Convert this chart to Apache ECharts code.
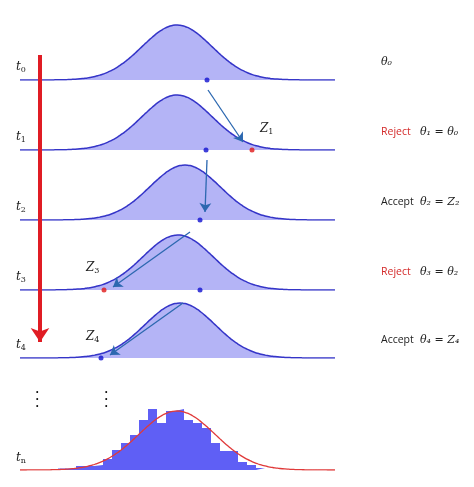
<!DOCTYPE html><html><head><meta charset="utf-8">
<script src="https://cdn.jsdelivr.net/npm/echarts@6/dist/echarts.min.js"></script>
<style>html,body{margin:0;background:#fff}#c{width:474px;height:487px}</style></head><body><div id="c"></div>
<script>
// proposal distributions per time step (centre, spread) in x units
const rowMeans = [177, 177, 185, 178, 180];
const rowSigma = 35;
const rowBaselines = [80, 150, 220, 290, 358];
// current theta (blue) and rejected proposals (red)
const thetaX = [207, 206, 200, 200, 101];
const rejectPts = [[252, 150], [104, 290]];
// proposal arrows [from, to]
const arrows = [[[208, 90], [243, 142]], [[207, 160], [205, 212]], [[190, 232], [113, 287]], [[183, 303], [110, 355]]];
// histogram of samples
const binEdges = [58,67,76,85,94,103,112,121,130,139,148,157,166,175,184,193,202,211,220,229,238,247,256,265];
const binCounts = [1.5,1.5,4,4,5,11,20,27,35,50,61,47,59,61,50,47,42,27,19,19,8,5,2];
const fitMean = 177, fitSigma = 38, fitPeak = 59;
const rightLabels = [['', 'θ₀'], ['Reject', 'θ₁ = θ₀'], ['Accept', 'θ₂ = Z₂'], ['Reject', 'θ₃ = θ₂'], ['Accept', 'θ₄ = Z₄']];
const zLabels = [[260,'1',131],[191,'2',201],[86,'3',270],[86,'4',339]];

const xs = []; for (let x = 20; x <= 335; x += 2.5) xs.push(x);
const g = (x, m, s) => Math.exp(-0.5 * ((x - m) / s) ** 2);
const grids = [], xAxes = [], yAxes = [], series = [];
const ax = {show: false};
rowBaselines.forEach((b, i) => {
  grids.push({left: 20, width: 315, top: b - 60, height: 60});
  xAxes.push({type: 'value', min: 20, max: 335, gridIndex: i, ...ax});
  yAxes.push({type: 'value', min: 0, max: 60, gridIndex: i, ...ax});
  series.push({type: 'line', xAxisIndex: i, yAxisIndex: i, showSymbol: false, smooth: true,
    data: xs.map(x => [x, 55 * g(x, rowMeans[i], rowSigma)]),
    lineStyle: {color: '#3535c8', width: 1.5}, areaStyle: {color: '#b4b4f6', opacity: 1}});
});
// histogram grid
grids.push({left: 20, width: 315, top: 400, height: 70});
xAxes.push({type: 'value', min: 20, max: 335, gridIndex: 5, ...ax});
yAxes.push({type: 'value', min: 0, max: 70, gridIndex: 5, ...ax});
const histData = binEdges.map((e, i) => [e, i < binCounts.length ? binCounts[i] : 0]);
series.push({type: 'line', xAxisIndex: 5, yAxisIndex: 5, step: 'end', showSymbol: false,
  data: histData, lineStyle: {width: 0}, areaStyle: {color: '#5f5ff5', opacity: 1}});
series.push({type: 'line', xAxisIndex: 5, yAxisIndex: 5, showSymbol: false, smooth: true,
  data: xs.map(x => [x, fitPeak * g(x, fitMean, fitSigma)]), lineStyle: {color: '#e03a3a', width: 1.3}, z: 5});
// overlay grid
grids.push({left: 0, top: 0, width: 474, height: 487});
xAxes.push({type: 'value', min: 0, max: 474, gridIndex: 6, ...ax});
yAxes.push({type: 'value', min: 0, max: 487, inverse: true, gridIndex: 6, ...ax});
const ov = {xAxisIndex: 6, yAxisIndex: 6, z: 10};
series.push({type: 'scatter', ...ov, symbolSize: 5, itemStyle: {color: '#1010d0'},
  data: thetaX.map((x, i) => [x, rowBaselines[i]])});
series.push({type: 'scatter', ...ov, symbolSize: 5, itemStyle: {color: '#e01818'}, data: rejectPts});
series.push({type: 'lines', coordinateSystem: 'cartesian2d', ...ov, symbol: ['none', 'arrow'], symbolSize: 9,
  lineStyle: {color: '#2c68b0', width: 1.3, opacity: 1}, data: arrows.map(a => ({coords: a}))});
series.push({type: 'lines', coordinateSystem: 'cartesian2d', ...ov, symbol: ['none', 'arrow'], symbolSize: 14,
  lineStyle: {color: '#e01c24', width: 4, opacity: 1}, data: [{coords: [[40, 55], [40, 342]]}]});
// text
const T = {fontFamily: 'DejaVu Serif', fontStyle: 'italic', fontSize: 12, fill: '#222'};
const rich = {s: {fontSize: 8, fontFamily: 'DejaVu Serif', verticalAlign: 'bottom', padding: [6,0,0,0]}};
const graphic = [];
['0','1','2','3','4'].forEach((k, i) => graphic.push({type: 'text', left: 16, top: rowBaselines[i] - 19,
  style: {text: 't{s|' + k + '}', ...T, rich}}));
graphic.push({type: 'text', left: 16, top: 452, style: {text: 't{s|n}', ...T, rich}});
zLabels.forEach(z => graphic.push({type: 'text', left: z[0], top: z[2] - 8, style: {text: 'Z{s|' + z[1] + '}', ...T, rich}}));
rightLabels.forEach((r, i) => {
  const y = rowBaselines[i] - 23;
  if (r[0]) graphic.push({type: 'text', left: 381, top: y, style: {text: r[0], fontFamily: 'Open Sans', fontSize: 10.5,
    fill: r[0] === 'Reject' ? '#d42a2a' : '#222'}});
  graphic.push({type: 'text', left: r[0] ? 420 : 381, top: y, style: {text: r[1], ...T, fontSize: 11}});
});
[38, 107].forEach(x => graphic.push({type: 'text', left: x - 2, top: 389, style: {text: '•\n•\n•', fontSize: 7, lineHeight: 7, fill: '#000'}}));
const chart = echarts.init(document.getElementById('c'));
chart.setOption({animation: false, grid: grids, xAxis: xAxes, yAxis: yAxes, series, graphic});
</script></body></html>
